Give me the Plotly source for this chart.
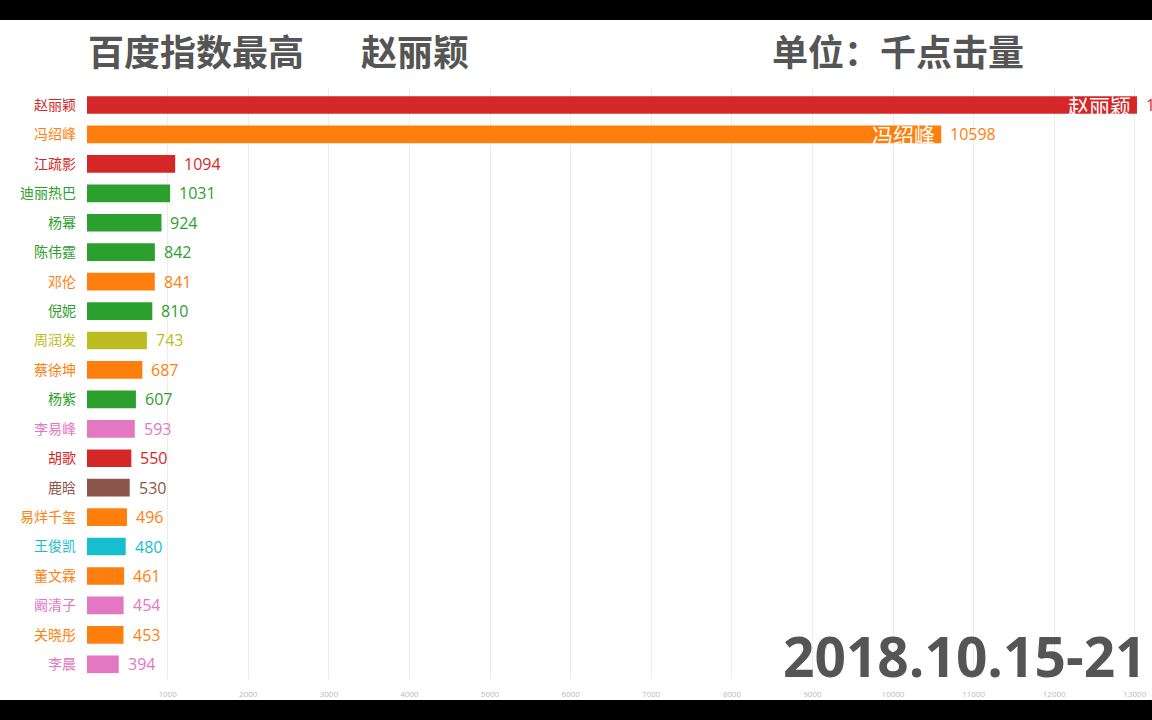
import plotly.graph_objects as go

# ---- data ----
names = ["赵丽颖", "冯绍峰", "江疏影", "迪丽热巴", "杨幂", "陈伟霆", "邓伦", "倪妮", "周润发", "蔡徐坤",
         "杨紫", "李易峰", "胡歌", "鹿晗", "易烊千玺", "王俊凯", "董文霖", "阚清子", "关晓彤", "李晨"]
values = [13027, 10598, 1094, 1031, 924, 842, 841, 810, 743, 687,
          607, 593, 550, 530, 496, 480, 461, 454, 453, 394]
RED, ORANGE, GREEN, OLIVE, PINK, BROWN, CYAN = (
    "#d62728", "#ff7f0e", "#2ca02c", "#bcbd22", "#e377c2", "#8c564b", "#17becf")
bar_colors = [RED, ORANGE, RED, GREEN, GREEN, GREEN, ORANGE, GREEN, OLIVE, ORANGE,
              GREEN, PINK, RED, BROWN, ORANGE, CYAN, ORANGE, PINK, ORANGE, PINK]
x_ticks = list(range(1000, 14000, 1000))
inside_label_count = 2  # leading bars that carry their name inside the bar end
title_left = "百度指数最高"
title_leader = "赵丽颖"
title_right = "单位：千点击量"
date_text = "2018.10.15-21"

CJK = "Noto Sans CJK SC"

W, H = 1152, 720
ml, mr, mt, mb = 87, 0, 88, 41
pw, ph = W - ml - mr, H - mt - mb


def px(x):
    return (x - ml) / pw


def py(y):
    return (H - mb - y) / ph


fig = go.Figure()
fig.add_trace(go.Bar(
    x=values, y=names, orientation="h",
    marker=dict(color=bar_colors, line=dict(width=0)),
    width=0.6, hoverinfo="skip",
))

for i, (n, v, c) in enumerate(zip(names, values, bar_colors)):
    fig.add_annotation(x=v, y=n, xref="x", yref="y", text=str(v), showarrow=False,
                       xanchor="left", xshift=7, font=dict(family="Open Sans", size=16, color=c))
    if i < inside_label_count:
        fig.add_annotation(x=v, y=n, xref="x", yref="y", text=n, showarrow=False,
                           xanchor="right", xshift=-4,
                           font=dict(family=CJK, size=21, color="white"))

title_font = dict(family=CJK, size=36, color="#555555")
fig.add_annotation(x=px(86), y=py(50), xref="paper", yref="paper", xanchor="left", yanchor="middle",
                   text="<b>" + title_left + "</b>", showarrow=False, font=title_font)
fig.add_annotation(x=px(359), y=py(50), xref="paper", yref="paper", xanchor="left", yanchor="middle",
                   text="<b>" + title_leader + "</b>", showarrow=False, font=title_font)
fig.add_annotation(x=px(770), y=py(50), xref="paper", yref="paper", xanchor="left", yanchor="middle",
                   text="<b>" + title_right + "</b>", showarrow=False, font=title_font)
fig.add_annotation(x=px(1149), y=py(655), xref="paper", yref="paper", xanchor="right", yanchor="middle",
                   text="<b>" + date_text + "</b>", showarrow=False, height=52,
                   font=dict(family="Open Sans", size=55, color="#555555"))

# black letterbox bands
fig.add_shape(type="rect", xref="paper", yref="paper", x0=px(0), x1=px(W), y0=py(20), y1=py(-5),
              fillcolor="black", line=dict(width=0), layer="above")
fig.add_shape(type="rect", xref="paper", yref="paper", x0=px(0), x1=px(W), y0=py(700), y1=py(725),
              fillcolor="black", line=dict(width=0), layer="above")

ticktext = [f"<span style='color:{c}'>{n}</span>" for n, c in zip(names, bar_colors)]

fig.update_layout(
    width=W, height=H,
    margin=dict(l=ml, r=mr, t=mt, b=mb, pad=0),
    paper_bgcolor="white", plot_bgcolor="white",
    showlegend=False,
    xaxis=dict(range=[0, (W - ml) / 80.6 * 1000], tickvals=x_ticks, ticktext=[str(t) for t in x_ticks],
               showgrid=True, gridcolor="#ececec", gridwidth=1, zeroline=False, showline=False,
               ticks="", ticklabelstandoff=9,
               tickfont=dict(family="Open Sans", size=8, color="#bbbbbb")),
    yaxis=dict(categoryorder="array", categoryarray=names, autorange="reversed",
               tickvals=names, ticktext=ticktext, ticks="", ticklabelstandoff=10,
               showgrid=False, zeroline=False, showline=False,
               tickfont=dict(family=CJK, size=14)),
)

fig.write_html("out.html", config={"displayModeBar": False},
               post_script="document.body.style.margin='0';document.body.style.overflow='hidden';")
